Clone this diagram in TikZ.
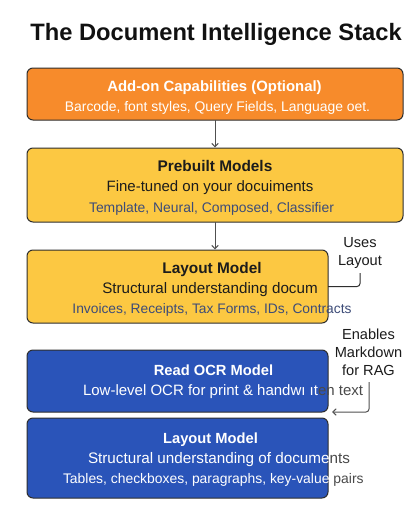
\documentclass[tikz,border=0pt]{standalone}
\usepackage{fontspec}
\setmainfont{Liberation Sans}
\usetikzlibrary{arrows.meta,calc}
\definecolor{orangebox}{HTML}{F78B2B}
\definecolor{yellowbox}{HTML}{FCC842}
\definecolor{bluebox}{HTML}{2A54B9}
\definecolor{edgecol}{HTML}{2E2E2E}
\definecolor{slate}{HTML}{3D4C78}
\definecolor{darktext}{HTML}{1C1C1C}
\definecolor{titlecol}{HTML}{111111}
\definecolor{overflowgray}{HTML}{4A4A4A}
\definecolor{arrowgray}{HTML}{505050}
\newcommand{\fsz}[2]{\fontsize{#1}{#2}\selectfont}
\begin{document}
\begin{tikzpicture}[x=1pt,y=-1pt,
  layer/.style={draw=edgecol,line width=1pt,rounded corners=6pt,inner sep=0pt,outer sep=0pt,anchor=north west},
  txt/.style={inner sep=0pt,outer sep=0pt,anchor=base},
  arr/.style={draw=arrowgray,line width=1pt,-{Straight Barb[length=3.5pt,width=6.5pt]}},
  conn/.style={draw=edgecol,line width=1pt,rounded corners=3pt}]
\useasboundingbox (0,0) rectangle (416,509);
\fill[white] (0,0) rectangle (416,509);

% title
\node[txt,font=\bfseries\fsz{23.7}{28},text=titlecol] (title) at (216,40) {The Document Intelligence Stack};

% boxes
\node[layer,fill=orangebox,minimum width=376pt,minimum height=52pt] (r1) at (27,68) {};
\node[layer,fill=yellowbox,minimum width=376pt,minimum height=74pt] (r2) at (27,148) {};
\node[layer,fill=yellowbox,minimum width=301pt,minimum height=73pt] (r3) at (27,250) {};
\node[layer,fill=bluebox,minimum width=301pt,minimum height=62pt] (r4) at (27,350) {};
\node[layer,fill=bluebox,minimum width=301pt,minimum height=80pt] (r5) at (27,418) {};

% box 1
\node[txt,font=\bfseries\fsz{14.9}{18},text=white] (r1a) at (214.5,91.7) {Add-on Capabilities (Optional)};
\node[txt,font=\fsz{13.9}{17},text=white] (r1b) at (217.5,111) {Barcode, font styles, Query Fields, Language oet.};

% box 2
\node[txt,font=\bfseries\fsz{15.4}{18},text=darktext] (r2a) at (215,171.7) {Prebuilt Models};
\node[txt,font=\fsz{15}{18},text=darktext] (r2b) at (210,191.7) {Fine-tuned on your docuiments};
\node[txt,font=\fsz{13.9}{17},text=slate] (r2c) at (211.5,212.7) {Template, Neural, Composed, Classifier};

% box 3
\node[txt,font=\bfseries\fsz{15.4}{18},text=darktext] (r3a) at (212,273.3) {Layout Model};
\node[txt,font=\fsz{15.2}{18},text=darktext] (r3b) at (210,293.3) {Structural understanding docum};
\node[txt,font=\fsz{13.8}{17},text=slate] (r3c) at (212,313.3) {Invoices, Receipts, Tax Forms, IDs, Contracts};

% box 4
\node[txt,font=\bfseries\fsz{14.7}{18},text=white] (r4a) at (213.5,375.7) {Read OCR Model};
\node[txt,anchor=base west,font=\fsz{15}{18},text=white] (r4b) at (83,395.7) {Low-level OCR for print \& handwı ıt};
\node[txt,anchor=base west,font=\fsz{15}{18},text=overflowgray] (r4c) at (r4b.base east) {en text};

% box 5
\node[txt,font=\bfseries\fsz{14.7}{18},text=white] (r5a) at (210.5,443.3) {Layout Model};
\node[txt,anchor=base west,font=\fsz{15.25}{18},text=white] (r5b) at (88,463.3) {Structural understanding of docume};
\node[txt,anchor=base west,font=\fsz{15.25}{18},text=overflowgray] (r5c) at (r5b.base east) {nts};
\node[txt,anchor=base west,font=\fsz{13.9}{17},text=white] (r5d) at (63,483.3) {Tables, checkboxes, paragraphs, key-value};
\node[txt,anchor=base west,font=\fsz{13.9}{17},text=overflowgray,xshift=3.9pt] (r5e) at (r5d.base east) {pairs};

% side labels (base = baseline of last line)
\node[txt,align=center,font=\fsz{14.6}{17.3},text=darktext] (uses) at (360,265) {Uses\\Layout};
\node[txt,align=center,font=\fsz{14.6}{17.9},text=darktext] (enables) at (368.5,375.7) {Enables\\Markdown\\for RAG};

% connectors
\draw[arr,shorten >=0.5pt] (r1.south) -- (r1.south |- r2.north);
\draw[arr,shorten >=0.5pt] (r2.south) -- (r2.south |- r3.north);
\coordinate (usesend) at (360,273);
\draw[conn] (r3.east) -- (r3.east -| usesend) -- (usesend);
\coordinate (enstart) at (369,382);
\coordinate (enend) at (332,412);
\draw[arr,rounded corners=3pt] (enstart) -- (enstart |- enend) -- (enend);
\end{tikzpicture}
\end{document}
